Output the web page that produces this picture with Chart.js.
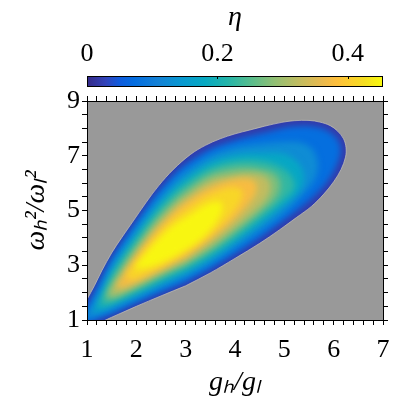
<!DOCTYPE html>
<html>
<head>
<meta charset="utf-8">
<script src="https://cdn.jsdelivr.net/npm/chart.js@4.4.1/dist/chart.umd.min.js"></script>
<style>
  html, body { margin: 0; padding: 0; background: #fff; }
  #wrap { position: relative; width: 400px; height: 400px; }
  #wrap canvas { position: absolute; left: 0; top: 0; }
</style>
</head>
<body>
<div id="wrap">
  <canvas id="main" width="400" height="400"></canvas>
  <canvas id="bar" width="400" height="95"></canvas>
</div>
<script>
// efficiency eta, levels of the contour lines
const etaLevels = [0, 0.05, 0.1, 0.15, 0.2, 0.25, 0.3, 0.35, 0.4, 0.43];
// eta used to colour the band just inside each contour
const bandEta = [0.02, 0.075, 0.125, 0.175, 0.225, 0.275, 0.325, 0.375, 0.415, 0.449];
const etaMax = 0.454;
const etaTicks = [0, 0.2, 0.4];

// contour lines, points are [g_h/g_l, omega_h^2/omega_l^2]
const eta000 = [[3.0,2.25],[3.5,2.72],[4.0,3.25],[4.5,3.8],[4.9,4.29],[5.25,4.75],[5.55,5.15],[5.8,5.6],[6.0,6.05],[6.15,6.5],[6.24,6.95],[6.25,7.3],[6.2,7.62],[6.08,7.9],[5.93,8.1],[5.72,8.23],[5.5,8.29],[5.2,8.28],[4.95,8.22],[4.6,8.08],[4.3,7.94],[4.0,7.8],[3.7,7.62],[3.4,7.38],[3.1,7.05],[2.75,6.5],[2.45,5.9],[2.2,5.3],[1.95,4.65],[1.7,4.0],[1.5,3.45],[1.3,2.8],[1.15,2.25],[1.0,1.75],[0.85,1.2],[0.8,0.8],[1.2,0.88],[1.5,1.1],[2.0,1.5],[2.5,1.88],[3.0,2.25]];
const eta005 = [[3.0,2.39],[3.5,2.87],[4.0,3.42],[4.5,4.0],[5.0,4.65],[5.5,5.35],[5.85,6.0],[6.05,6.6],[6.14,7.1],[6.12,7.45],[6.0,7.75],[5.8,7.97],[5.5,8.08],[5.2,8.07],[4.95,8.0],[4.5,7.8],[4.0,7.57],[3.5,7.25],[3.0,6.69],[2.75,6.29],[2.45,5.7],[2.2,5.1],[1.95,4.46],[1.7,3.81],[1.5,3.25],[1.3,2.56],[1.1,1.84],[0.95,1.35],[0.85,1.0],[1.0,0.88],[1.2,1.02],[1.5,1.22],[2.0,1.62],[2.5,2.01],[3.0,2.39]];
const eta010 = [[3.0,2.56],[3.5,3.05],[4.0,3.63],[4.5,4.24],[5.0,4.92],[5.35,5.55],[5.6,6.1],[5.68,6.6],[5.63,7.05],[5.5,7.35],[5.25,7.5],[5.0,7.5],[4.5,7.43],[4.0,7.31],[3.5,7.01],[3.0,6.44],[2.75,6.05],[2.45,5.46],[2.2,4.87],[1.95,4.23],[1.7,3.58],[1.5,3.02],[1.3,2.28],[1.1,1.56],[0.97,1.12],[1.05,1.06],[1.2,1.16],[1.5,1.36],[2.0,1.76],[2.5,2.17],[3.0,2.56]];
const eta015 = [[3.0,2.72],[3.5,3.23],[4.0,3.83],[4.5,4.48],[5.0,5.19],[5.3,5.7],[5.4,6.2],[5.3,6.7],[5.0,7.06],[4.5,7.1],[4.0,7.04],[3.5,6.77],[3.0,6.19],[2.75,5.8],[2.45,5.22],[2.2,4.64],[1.95,4.01],[1.7,3.36],[1.5,2.79],[1.3,2.0],[1.18,1.55],[1.12,1.3],[1.2,1.3],[1.5,1.5],[2.0,1.9],[2.5,2.32],[3.0,2.72]];
const eta020 = [[3.0,2.86],[3.5,3.38],[4.0,4.0],[4.5,4.68],[5.0,5.41],[5.2,5.85],[5.12,6.3],[4.85,6.65],[4.5,6.82],[4.0,6.81],[3.5,6.56],[3.0,5.98],[2.75,5.59],[2.45,5.02],[2.2,4.44],[1.95,3.82],[1.7,3.17],[1.5,2.59],[1.35,2.0],[1.26,1.55],[1.35,1.53],[1.5,1.62],[2.0,2.02],[2.5,2.45],[3.0,2.86]];
const eta025 = [[3.0,3.03],[3.5,3.56],[4.0,4.21],[4.5,4.91],[4.85,5.5],[4.92,6.0],[4.8,6.35],[4.5,6.52],[4.0,6.55],[3.5,6.32],[3.0,5.73],[2.75,5.35],[2.45,4.78],[2.2,4.21],[1.95,3.59],[1.7,2.94],[1.5,2.36],[1.38,1.82],[1.5,1.76],[2.0,2.16],[2.5,2.61],[3.0,3.03]];
const eta030 = [[3.0,3.15],[3.5,3.72],[4.0,4.4],[4.5,5.15],[4.68,5.55],[4.72,5.95],[4.6,6.25],[4.3,6.35],[4.0,6.3],[3.5,6.1],[3.0,5.5],[2.75,5.12],[2.45,4.56],[2.2,4.0],[1.95,3.37],[1.7,2.7],[1.5,2.08],[1.47,1.94],[1.6,1.96],[2.0,2.28],[2.5,2.72],[3.0,3.15]];
const eta035 = [[3.0,3.3],[3.5,3.95],[4.0,4.7],[4.35,5.4],[4.45,5.85],[4.35,6.12],[4.0,6.15],[3.5,5.85],[3.0,5.3],[2.75,4.92],[2.45,4.35],[2.2,3.8],[1.95,3.2],[1.7,2.5],[1.6,2.25],[1.72,2.2],[2.0,2.4],[2.5,2.86],[3.0,3.3]];
const eta040 = [[3.0,3.45],[3.5,4.1],[3.9,4.8],[4.1,5.3],[4.15,5.7],[3.95,5.85],[3.5,5.6],[3.0,5.05],[2.75,4.7],[2.45,4.15],[2.2,3.6],[1.95,3.0],[1.8,2.6],[1.9,2.5],[2.1,2.6],[2.5,2.95],[3.0,3.45]];
const eta043 = [[2.8,3.35],[3.2,3.8],[3.5,4.3],[3.72,4.9],[3.72,5.3],[3.45,5.25],[3.1,4.85],[2.75,4.45],[2.45,3.95],[2.15,3.35],[1.98,2.9],[2.15,2.9],[2.45,3.05],[2.8,3.35]];
const contours = [eta000, eta005, eta010, eta015, eta020, eta025, eta030, eta035, eta040, eta043];

// parula colour map, [t, r, g, b]
const parula = [
  [0.000, 53, 42, 135], [0.063, 50, 67, 186], [0.111, 15, 92, 221], [0.159, 4, 109, 224],
  [0.238, 20, 129, 214], [0.317, 9, 152, 209], [0.397, 7, 169, 194], [0.476, 37, 181, 169],
  [0.556, 89, 189, 140], [0.635, 146, 191, 115], [0.714, 192, 188, 96], [0.794, 233, 185, 78],
  [0.841, 253, 190, 61], [0.889, 252, 206, 46], [0.937, 245, 222, 33], [1.000, 249, 251, 14]
];

function etaColor(v) {
  const t = Math.min(1, Math.max(0, v / etaMax));
  let i = 1;
  while (i < parula.length - 1 && parula[i][0] < t) i++;
  const a = parula[i - 1], b = parula[i];
  const f = (t - a[0]) / (b[0] - a[0]);
  const c = [1, 2, 3].map(k => Math.round(a[k] + (b[k] - a[k]) * f));
  return `rgb(${c[0]},${c[1]},${c[2]})`;
}

const serif = 'Liberation Serif';
const tickFont = { family: serif, size: 26 };
const titleFont = { family: serif, size: 28, style: 'italic' };
const isWhole = v => Math.abs(v - Math.round(v)) < 1e-6;

// gray background, then the filled contours, blurred a little so the bands run together
const etaMap = {
  id: 'etaMap',
  beforeDatasetsDraw(chart) {
    const { ctx, chartArea: a } = chart;
    ctx.save();
    ctx.fillStyle = '#999999';
    ctx.fillRect(a.left, a.top, a.width, a.height);
    ctx.beginPath();
    ctx.rect(a.left, a.top, a.width, a.height);
    ctx.clip();

    const outer = chart.getDatasetMeta(0).dataset;
    outer.updateControlPoints(a, 'x');
    ctx.beginPath();
    outer.path(ctx);
    ctx.closePath();
    ctx.clip();
    ctx.fillStyle = etaColor(bandEta[0]);
    ctx.fillRect(a.left, a.top, a.width, a.height);

    ctx.filter = 'blur(3px)';
    for (let i = 1; i < etaLevels.length; i++) {
      const line = chart.getDatasetMeta(i).dataset;
      line.updateControlPoints(a, 'x');
      ctx.beginPath();
      line.path(ctx);
      ctx.closePath();
      ctx.fillStyle = etaColor(bandEta[i]);
      ctx.fill();
    }
    ctx.restore();
  }
};

const blackGrid = { drawOnChartArea: false, color: '#000', tickLength: 5, lineWidth: 1 };
const blackBorder = { color: '#000', width: 1, z: 1 };

function drawMap() {
  new Chart(document.getElementById('main'), {
    type: 'line',
    data: {
      datasets: etaLevels.map((lev, i) => ({
        label: 'eta = ' + lev,
        data: contours[i].map(([x, y]) => ({ x, y })),
        borderColor: i === 0 ? 'rgba(200,196,184,0.7)' : 'rgba(0,0,0,0)',
        borderWidth: i === 0 ? 1 : 0,
        pointRadius: 0,
        tension: 0.35,
        capBezierPoints: false,
        fill: false
      }))
    },
    options: {
      responsive: false,
      animation: false,
      events: [],
      layout: { padding: 0 },
      plugins: { legend: { display: false }, tooltip: { enabled: false } },
      scales: {
        x: {
          type: 'linear', position: 'bottom', min: 1, max: 7,
          ticks: { stepSize: 0.2, autoSkip: false, maxRotation: 0, padding: 10, color: '#000', font: tickFont,
            callback: v => isWhole(v) ? String(Math.round(v)) : '' },
          grid: blackGrid, border: blackBorder,
          title: { display: true, text: 'gₕ/gₗ', color: '#000', font: titleFont, padding: { top: 0, bottom: 1 } },
          afterFit: s => { s.height = 80; }
        },
        xTop: {
          type: 'linear', axis: 'x', position: 'top', min: 1, max: 7,
          ticks: { stepSize: 0.2, autoSkip: false, display: false },
          grid: blackGrid, border: blackBorder,
          afterFit: s => { s.height = 101; }
        },
        y: {
          type: 'linear', position: 'left', min: 1, max: 9,
          ticks: { stepSize: 0.5, autoSkip: false, padding: 2, color: '#000', font: tickFont,
            callback: v => (isWhole(v) && Math.round(v) % 2 === 1) ? String(Math.round(v)) : '' },
          grid: blackGrid, border: blackBorder,
          title: { display: true, text: 'ωₕ²/ωₗ²', color: '#000', font: titleFont, padding: { top: 20, bottom: 0 } },
          afterFit: s => { s.width = 87; }
        },
        yRight: {
          type: 'linear', axis: 'y', position: 'right', min: 1, max: 9,
          ticks: { stepSize: 0.5, autoSkip: false, display: false },
          grid: blackGrid, border: blackBorder,
          afterFit: s => { s.width = 17; }
        }
      }
    },
    plugins: [etaMap]
  });

  new Chart(document.getElementById('bar'), {
    type: 'line',
    data: { datasets: [] },
    options: {
      responsive: false,
      animation: false,
      events: [],
      layout: { padding: { left: 87, right: 17, top: 0, bottom: 8 } },
      plugins: { legend: { display: false }, tooltip: { enabled: false } },
      scales: {
        x: {
          type: 'linear', position: 'top', min: 0, max: etaMax,
          afterBuildTicks: s => { s.ticks = etaTicks.map(v => ({ value: v })); },
          ticks: { autoSkip: false, maxRotation: 0, padding: 6, color: '#000', font: tickFont,
            callback: v => v === 0 ? '0' : v.toFixed(1) },
          grid: { drawOnChartArea: false, drawTicks: false },
          border: { display: false },
          title: { display: true, text: 'η', color: '#000', font: titleFont, padding: { top: 1, bottom: 0 } },
          afterFit: s => { s.height = 76; }
        },
        y: { display: false, min: 0, max: 1 }
      }
    },
    plugins: [colorBar]
  });
}

// colour bar above the map
const colorBar = {
  id: 'colorBar',
  beforeDatasetsDraw(chart) {
    const { ctx, chartArea: a, scales: { x } } = chart;
    const g = ctx.createLinearGradient(x.getPixelForValue(0), 0, x.getPixelForValue(etaMax), 0);
    parula.forEach(c => g.addColorStop(c[0], `rgb(${c[1]},${c[2]},${c[3]})`));
    ctx.save();
    ctx.fillStyle = g;
    ctx.fillRect(a.left, a.top, a.width, a.height);
    ctx.strokeStyle = '#000';
    ctx.lineWidth = 1;
    ctx.strokeRect(a.left + 0.5, a.top + 0.5, a.width - 1, a.height - 1);
    etaTicks.forEach(v => {
      const px = Math.round(x.getPixelForValue(v)) + 0.5;
      ctx.beginPath();
      ctx.moveTo(px, a.top);
      ctx.lineTo(px, a.top + 3);
      ctx.stroke();
    });
    ctx.restore();
  }
};

Promise.all([
  document.fonts.load('26px "Liberation Serif"'),
  document.fonts.load('italic 28px "Liberation Serif"')
]).catch(() => {}).then(drawMap);
</script>
</body>
</html>
